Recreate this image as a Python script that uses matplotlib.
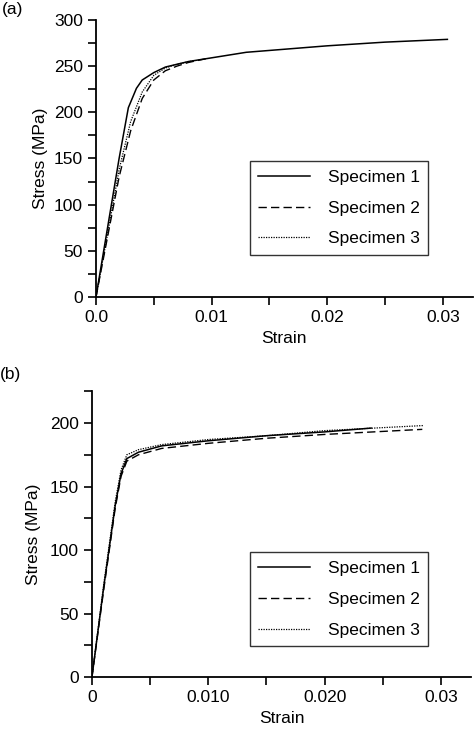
import matplotlib
matplotlib.use("Agg")
import matplotlib.pyplot as plt
from matplotlib.ticker import MultipleLocator, FixedLocator

# panel (a)
a_x1 = [0, 0.001, 0.002, 0.0028, 0.0035, 0.004, 0.005, 0.006, 0.008, 0.010, 0.013, 0.017, 0.020, 0.025, 0.0304]
a_y1 = [0, 75, 150, 205, 226, 235, 243, 249, 255, 259, 265, 269, 272, 276, 279]
a_x2 = [0, 0.001, 0.002, 0.003, 0.004, 0.005, 0.006, 0.007, 0.008, 0.0095]
a_y2 = [0, 65, 130, 180, 215, 235, 245, 250, 254, 258]
a_x3 = [0, 0.001, 0.002, 0.003, 0.004, 0.005, 0.006, 0.007, 0.0085]
a_y3 = [0, 68, 138, 190, 222, 240, 248, 252, 256]

# panel (b)
b_x1 = [0, 0.001, 0.002, 0.0025, 0.003, 0.004, 0.006, 0.010, 0.015, 0.020, 0.024]
b_y1 = [0, 70, 135, 160, 172, 177, 182, 186, 190, 193, 196]
b_x2 = [0, 0.001, 0.002, 0.0025, 0.003, 0.004, 0.006, 0.010, 0.015, 0.020, 0.0284]
b_y2 = [0, 68, 133, 158, 170, 175, 180, 184, 188, 191, 195]
b_x3 = [0, 0.001, 0.002, 0.0025, 0.003, 0.004, 0.006, 0.010, 0.015, 0.020, 0.0285]
b_y3 = [0, 72, 138, 163, 175, 179, 183, 187, 190, 194, 198]

labels = ["Specimen 1", "Specimen 2", "Specimen 3"]
styles = [dict(ls="-", lw=1.1), dict(ls=(0, (6, 3)), lw=1.0), dict(ls=(0, (1, 1)), lw=0.9)]

plt.rcParams["font.family"] = "Liberation Sans"
plt.rcParams["axes.linewidth"] = 1.3
fs = 12.5

fig = plt.figure(figsize=(4.74, 7.29), dpi=100)


def setup(ax, ymax, xticklabels, ylab_pad):
    ax.spines["top"].set_visible(False)
    ax.spines["right"].set_visible(False)
    ax.set_xlim(0, 0.0326)
    ax.set_ylim(0, ymax)
    ax.xaxis.set_major_locator(FixedLocator([0, 0.01, 0.02, 0.03]))
    ax.set_xticklabels(xticklabels, fontsize=fs)
    ax.xaxis.set_minor_locator(MultipleLocator(0.005))
    ax.yaxis.set_major_locator(MultipleLocator(50))
    ax.yaxis.set_minor_locator(MultipleLocator(25))
    ax.tick_params(labelsize=fs, direction="out", length=6, width=1.2)
    ax.tick_params(which="minor", length=6, width=1.2)
    ax.set_xlabel("Strain", fontsize=fs, labelpad=4)
    ax.set_ylabel("Stress (MPa)", fontsize=fs, labelpad=ylab_pad)


axa = fig.add_axes([0.2025, 0.5926, 0.795, 0.38])
for x, y, st, lb in zip([a_x1, a_x2, a_x3], [a_y1, a_y2, a_y3], styles, labels):
    axa.plot(x, y, color="black", label=lb, **st)
setup(axa, 300, ["0.0", "0.01", "0.02", "0.03"], 4)
axa.legend(loc="lower right", bbox_to_anchor=(0.905, 0.12), fontsize=fs,
           frameon=True, fancybox=False, edgecolor="black", handlelength=3.0,
           labelspacing=0.9, borderpad=0.5, handletextpad=1.0)
fig.text(0.005, 0.997, "(a)", fontsize=fs, va="top")

axb = fig.add_axes([0.194, 0.0713, 0.8, 0.392])
for x, y, st, lb in zip([b_x1, b_x2, b_x3], [b_y1, b_y2, b_y3], styles, labels):
    axb.plot(x, y, color="black", label=lb, **st)
setup(axb, 225, ["0", "0.010", "0.020", "0.03"], 6)
axb.legend(loc="lower right", bbox_to_anchor=(0.91, 0.077), fontsize=fs,
           frameon=True, fancybox=False, edgecolor="black", handlelength=3.0,
           labelspacing=0.9, borderpad=0.5, handletextpad=1.0)
fig.text(0.0, 0.497, "(b)", fontsize=fs, va="top")

fig.savefig("out.png", dpi=100)
